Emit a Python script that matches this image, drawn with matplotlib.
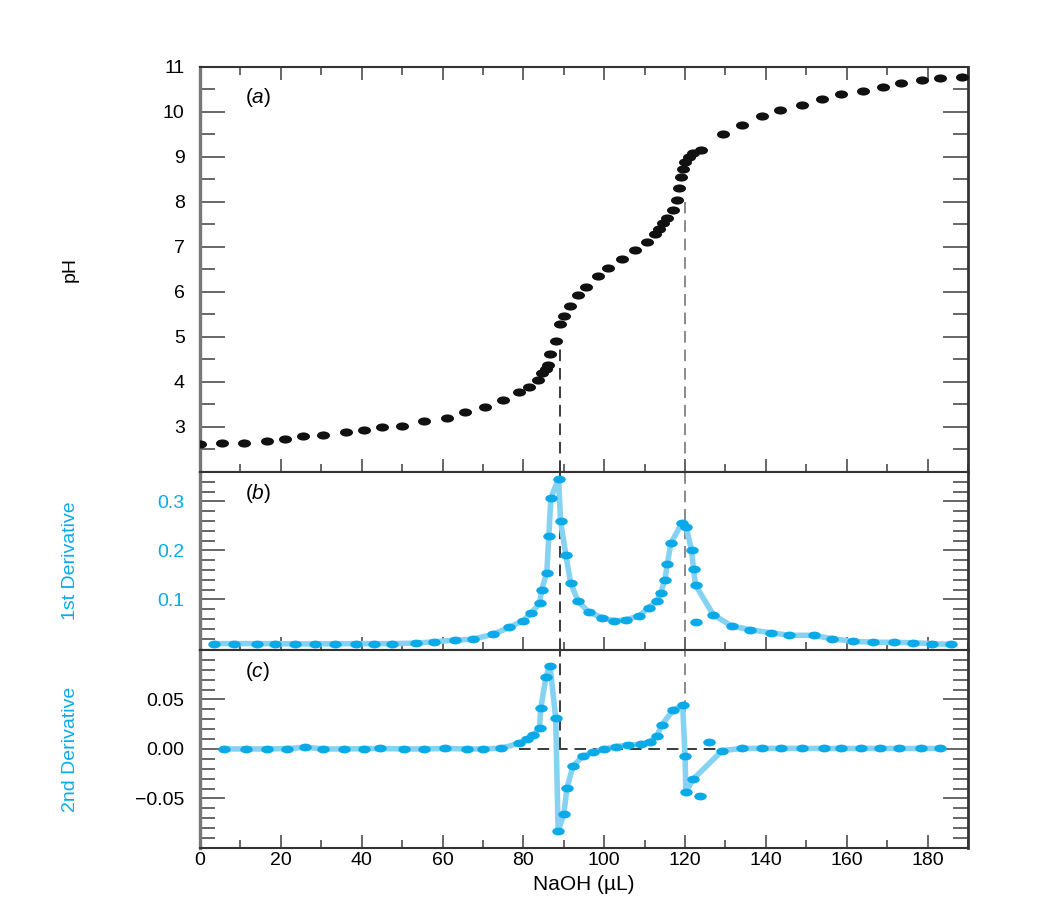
import matplotlib
matplotlib.use('Agg')
import matplotlib.pyplot as plt
import matplotlib.path as mpath
import matplotlib.transforms as mtransforms
from matplotlib.ticker import MultipleLocator, FuncFormatter, FixedLocator

plt.rcParams['font.family'] = ['Liberation Sans', 'DejaVu Sans']
plt.rcParams['mathtext.fontset'] = 'custom'
plt.rcParams['mathtext.it'] = 'Liberation Sans:italic'
plt.rcParams['mathtext.rm'] = 'Liberation Sans'

# (a) titration curve
vol_a = [0, 5.5, 11, 16.5, 21, 25.5, 30.5, 36, 40.5, 45, 50, 55.5, 61, 65.5,
         70.5, 75, 79, 81.5, 83.5, 84.5, 85.5, 86, 86.5, 88, 89, 90, 91.5,
         93.5, 95.5, 98.5, 101, 104.5, 107.5, 110.5, 112.5, 113.5, 114.5,
         115.5, 117, 118, 118.5, 119, 119.5, 120, 121, 122, 124, 129.5, 134,
         139, 143.5, 149, 154, 158.5, 164, 169, 173.5, 178.5, 183, 188.5]
ph = [2.63, 2.64, 2.65, 2.69, 2.73, 2.79, 2.83, 2.89, 2.94, 2.99, 3.03, 3.13,
      3.21, 3.33, 3.44, 3.59, 3.77, 3.88, 4.05, 4.19, 4.28, 4.37, 4.61, 4.91,
      5.28, 5.47, 5.68, 5.92, 6.11, 6.36, 6.54, 6.74, 6.93, 7.10, 7.28, 7.39,
      7.52, 7.63, 7.82, 8.05, 8.31, 8.54, 8.73, 8.88, 9.00, 9.08, 9.16, 9.50,
      9.70, 9.90, 10.04, 10.15, 10.28, 10.39, 10.47, 10.56, 10.63, 10.70,
      10.74, 10.78]

# (b) first derivative
vol_b = [3.5, 8.5, 14, 18.5, 23.5, 28.5, 33.5, 38.5, 43, 47.5, 53.5, 58, 63,
         67.5, 72.5, 76.5, 80, 82, 84, 84.5, 85.8, 86.3, 86.8, 88.7, 89.2,
         90.5, 91.7, 93.5, 96.2, 99.5, 102.5, 105.5, 108.5, 111, 113, 114,
         115, 115.6, 116.5, 119.3, 120.3, 121.6, 122.1, 122.6, 122.6, 127,
         131.5, 136, 141.3, 145.8, 151.8, 156.4, 161.5, 166.4, 171.8, 176.3,
         181.2, 185.8]
d1 = [0.010, 0.010, 0.010, 0.010, 0.0095, 0.0095, 0.0097, 0.010, 0.010,
      0.010, 0.011, 0.014, 0.017, 0.019, 0.029, 0.043, 0.057, 0.073, 0.092,
      0.119, 0.155, 0.230, 0.307, 0.346, 0.260, 0.191, 0.134, 0.097, 0.074,
      0.063, 0.056, 0.059, 0.066, 0.083, 0.097, 0.114, 0.140, 0.172, 0.215,
      0.257, 0.247, 0.201, 0.162, 0.129, 0.054, 0.069, 0.046, 0.0385, 0.032,
      0.027, 0.027, 0.020, 0.0146, 0.013, 0.0125, 0.012, 0.0098, 0.0084]
d1_off = [44]  # points that sit off the smooth curve

# (c) second derivative
vol_c = [6, 11.5, 16.5, 21.5, 26, 30.5, 35.5, 40.5, 44.5, 50.5, 55.5, 60.5,
         66, 70, 74.5, 79, 81, 82.5, 84, 84.3, 85.6, 86.6, 88, 88.6, 90, 90.8,
         92.3, 94.7, 97.3, 100, 103, 106, 109, 111.3, 113, 114.2, 117, 119.4,
         120, 120.2, 122, 123.6, 126, 129.2, 134, 139, 143.8, 149, 154.3,
         158.6, 163.6, 168.3, 173, 178.4, 183]
d2 = [0, 0, 0, 0.0003, 0.0017, 0, 0, 0.0003, 0.0005, 0, 0, 0.0005, 0, 0,
      0.0007, 0.0058, 0.0102, 0.0143, 0.021, 0.041, 0.073, 0.084, 0.031,
      -0.0827, -0.066, -0.039, -0.017, -0.0075, -0.0034, 0, 0.0024, 0.004,
      0.0045, 0.0075, 0.0126, 0.024, 0.039, 0.044, -0.0068, -0.0435, -0.0306,
      -0.048, 0.0068, -0.0017, 0.0005, 0.0005, 0.0005, 0.0005, 0.0005,
      0.0005, 0.0005, 0.0005, 0.0005, 0.0005, 0.0005]
d2_off = [41, 42]

# equivalence points
eq_vol = [89, 120]
eq_ph = [4.86, 8.0]
eq_colors = ['#3a3a3a', '#8a8a8a']

blue = '#0aaae8'
light_blue = '#86d2f3'
ellipse = mpath.Path.unit_circle().transformed(
    mtransforms.Affine2D().scale(1.6, 1.0))

fig = plt.figure(figsize=(10.45, 9.19), dpi=100)
left, width = 0.1914, 0.7349
ax_a = fig.add_axes([left, 0.4864, width, 0.4410])
ax_b = fig.add_axes([left, 0.2927, width, 0.1937])
ax_c = fig.add_axes([left, 0.0773, width, 0.2155])

dash = dict(ls=(0, (6, 3.5)), lw=1.4, zorder=1)

# --- (a) ---
ax_a.plot(vol_a, ph, ls='none', marker=ellipse, ms=9.4, color='#111111',
          mec='none', zorder=3)
for x, y, col in zip(eq_vol, eq_ph, eq_colors):
    ax_a.plot([x, x], [2, y], color=col, **dash)
ax_a.set_ylim(2, 11)
ax_a.set_yticks(range(3, 12))
ax_a.yaxis.set_minor_locator(MultipleLocator(0.5))
ax_a.set_ylabel('pH', fontsize=14)
ax_a.yaxis.set_label_coords(-0.158, 0.5)

# --- (b) ---
keep = [i for i in range(len(vol_b)) if i not in d1_off]
ax_b.plot([vol_b[i] for i in keep], [d1[i] for i in keep], color=light_blue,
          lw=4, zorder=2, solid_capstyle='round', solid_joinstyle='round')
ax_b.plot(vol_b, d1, ls='none', marker=ellipse, ms=9.0, color=blue,
          mec='none', zorder=3)
for x, col in zip(eq_vol, eq_colors):
    ax_b.axvline(x, color=col, **dash)
ax_b.set_ylim(-0.003, 0.36)
ax_b.set_yticks([0.1, 0.2, 0.3])
ax_b.yaxis.set_minor_locator(FixedLocator([i * 0.02 for i in range(1, 18)]))
ax_b.yaxis.set_major_formatter(FuncFormatter(lambda v, p: f'{v:.1f}'))
ax_b.tick_params(axis='y', labelcolor=blue)
ax_b.set_ylabel('1st Derivative', fontsize=14, color=blue)
ax_b.yaxis.set_label_coords(-0.158, 0.5)

# --- (c) ---
keep = [i for i in range(len(vol_c)) if i not in d2_off]
ax_c.plot([vol_c[i] for i in keep], [d2[i] for i in keep], color=light_blue,
          lw=4, zorder=2, solid_capstyle='round', solid_joinstyle='round')
ax_c.plot(vol_c, d2, ls='none', marker=ellipse, ms=9.0, color=blue,
          mec='none', zorder=3)
for x, col in zip(eq_vol, eq_colors):
    ax_c.plot([x, x], [0, 0.1], color=col, **dash)
ax_c.plot([79, 129.5], [0, 0], color='#3a3a3a', **dash)
ax_c.set_ylim(-0.1, 0.1)
ax_c.set_yticks([-0.05, 0, 0.05])
ax_c.yaxis.set_minor_locator(MultipleLocator(0.01))
ax_c.yaxis.set_major_formatter(FuncFormatter(
    lambda v, p: f'{v:.2f}'.replace('-', '\u2212') if abs(v) > 1e-9 else '0.00'))
ax_c.set_ylabel('2nd Derivative', fontsize=14, color=blue)
ax_c.yaxis.set_label_coords(-0.158, 0.5)
ax_c.set_xlabel('NaOH (\u00b5L)', fontsize=15, labelpad=4)

for ax, lab, ly, top in [(ax_a, 'a', 0.925, True), (ax_b, 'b', 0.882, False),
                         (ax_c, 'c', 0.889, False)]:
    ax.set_xlim(0, 190)
    ax.xaxis.set_major_locator(MultipleLocator(20))
    ax.xaxis.set_minor_locator(MultipleLocator(10))
    ax.tick_params(which='both', direction='in', top=top, right=True,
                   color='#666666', width=1.4, labelsize=14)
    ax.tick_params(axis='y', which='major', length=18, pad=11)
    ax.tick_params(axis='y', which='minor', length=11)
    ax.tick_params(axis='x', which='major', length=9.5, pad=3)
    ax.tick_params(axis='x', which='minor', length=6)
    if ax is not ax_c:
        ax.tick_params(axis='x', labelbottom=False)
    for s in ax.spines.values():
        s.set_linewidth(1.5)
        s.set_color('#333333')
    ax.spines['left'].set_color('#777777')
    ax.spines['left'].set_linewidth(2.4)
    ax.spines['right'].set_linewidth(2.0)
    ax.text(0.075, ly, '($\\it{%s}$)' % lab, transform=ax.transAxes,
            fontsize=15, ha='center', va='center')

fig.savefig('out.png', dpi=100)
